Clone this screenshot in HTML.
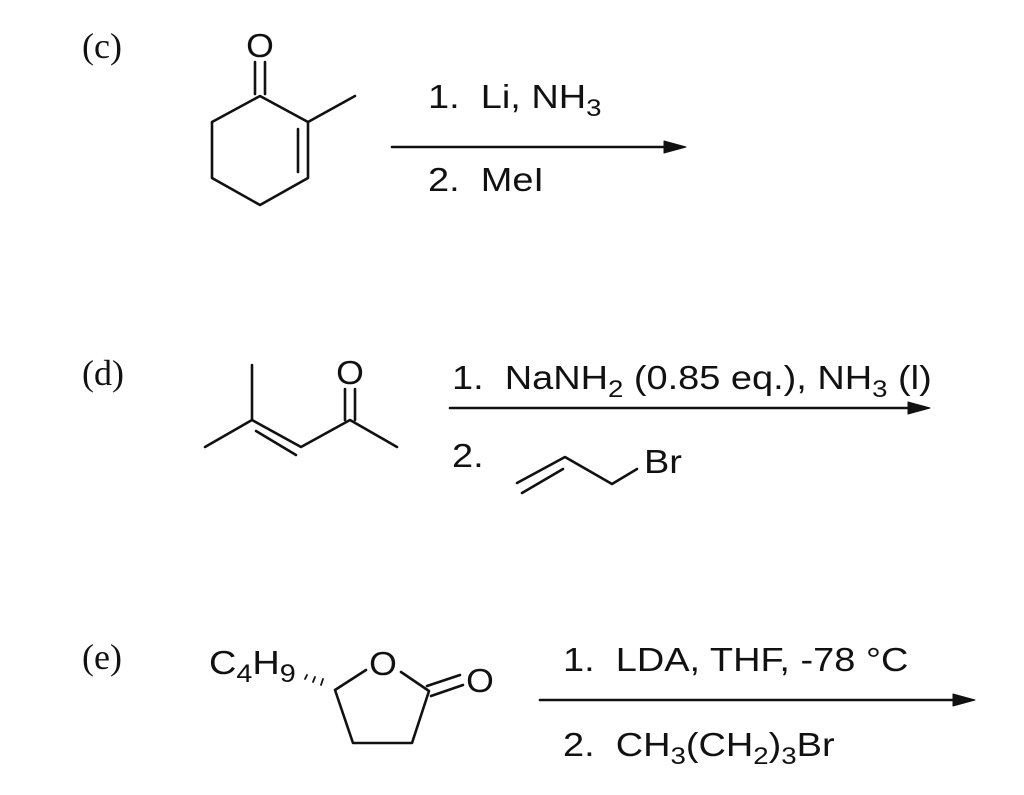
<!DOCTYPE html>
<html><head><style>
html,body{margin:0;padding:0;background:#fff;}
svg{display:block;}
.s{font-family:"Liberation Sans",sans-serif;font-size:33px;fill:#111;white-space:pre;}
.r{font-family:"Liberation Serif",serif;font-size:36px;fill:#111;}
line,polyline,polygon{stroke:#111;stroke-width:2.6;fill:none;stroke-linecap:round;stroke-linejoin:round;}
</style></head><body>
<svg width="1024" height="795" viewBox="0 0 1024 795" xmlns="http://www.w3.org/2000/svg">
<text class="r" x="82" y="58">(c)</text>
<text class="r" x="82" y="385">(d)</text>
<text class="r" x="82" y="669">(e)</text>

<!-- (c) cyclohexenone -->
<g transform="translate(260,57) scale(1.08,1)"><text class="s" x="0" y="0" text-anchor="middle">O</text></g>
<line x1="255" y1="62" x2="255" y2="94"/><line x1="265" y1="62" x2="265" y2="94"/>
<polygon points="260,96 308,122 308,178 260,205 212,178 212,122"/>
<line x1="298" y1="129" x2="298" y2="172"/>
<line x1="308" y1="122" x2="355" y2="96"/>
<g transform="translate(428,108) scale(1.15,1)"><text class="s" x="0" y="0">1.&#160;&#160;Li, NH<tspan font-size="24" dy="8">3</tspan></text></g>
<g transform="translate(428,191) scale(1.15,1)"><text class="s" x="0" y="0">2.&#160;&#160;MeI</text></g>
<line x1="392" y1="147" x2="672" y2="147"/>
<polygon points="686,147 664,141 664,153" style="fill:#111;stroke-width:1"/>

<!-- (d) -->
<polyline points="205,447 252,420 301,447 350,420 397,447"/>
<line x1="252" y1="365" x2="252" y2="420"/>
<line x1="256" y1="431" x2="296" y2="455"/>
<g transform="translate(350,384) scale(1.08,1)"><text class="s" x="0" y="0" text-anchor="middle">O</text></g>
<line x1="345" y1="389" x2="345" y2="420"/><line x1="355" y1="389" x2="355" y2="420"/>
<g transform="translate(452,389) scale(1.15,1)"><text class="s" x="0" y="0">1.&#160;&#160;NaNH<tspan font-size="24" dy="8">2</tspan><tspan dy="-8"> (0.85 eq.), NH</tspan><tspan font-size="24" dy="8">3</tspan><tspan dy="-8"> (l)</tspan></text></g>
<g transform="translate(452,467) scale(1.15,1)"><text class="s" x="0" y="0">2.</text></g>
<polyline points="517,483 565,457 612,484 637,469"/>
<line x1="522" y1="493" x2="563" y2="469"/>
<g transform="translate(644,473) scale(1.15,1)"><text class="s" x="0" y="0">Br</text></g>
<line x1="450" y1="408" x2="916" y2="408"/>
<polygon points="930,408 908,402 908,414" style="fill:#111;stroke-width:1"/>

<!-- (e) -->
<g transform="translate(209,674) scale(1.15,1)"><text class="s" x="0" y="0">C<tspan font-size="25" dy="8">4</tspan><tspan dy="-8">H</tspan><tspan font-size="25" dy="8">9</tspan></text></g>
<line x1="307" y1="675" x2="305" y2="679" style="stroke-width:1.8"/>
<line x1="315" y1="677" x2="313" y2="682" style="stroke-width:1.8"/>
<line x1="323" y1="679" x2="321" y2="685" style="stroke-width:1.8"/>
<polyline points="366,670 335,690 353,743 412,743 429,691 401,672"/>
<g transform="translate(383,675) scale(1.08,1)"><text class="s" x="0" y="0" text-anchor="middle">O</text></g>
<line x1="427" y1="686" x2="460" y2="675"/><line x1="431" y1="696" x2="463" y2="685"/>
<g transform="translate(480,692) scale(1.08,1)"><text class="s" x="0" y="0" text-anchor="middle">O</text></g>
<g transform="translate(563,671) scale(1.15,1)"><text class="s" x="0" y="0">1.&#160;&#160;LDA, THF, -78 °C</text></g>
<g transform="translate(563,756) scale(1.15,1)"><text class="s" x="0" y="0">2.&#160;&#160;CH<tspan font-size="24" dy="8">3</tspan><tspan dy="-8">(CH</tspan><tspan font-size="24" dy="8">2</tspan><tspan dy="-8">)</tspan><tspan font-size="24" dy="8">3</tspan><tspan dy="-8">Br</tspan></text></g>
<line x1="540" y1="700" x2="961" y2="700"/>
<polygon points="975,700 953,694 953,706" style="fill:#111;stroke-width:1"/>
</svg>
</body></html>
